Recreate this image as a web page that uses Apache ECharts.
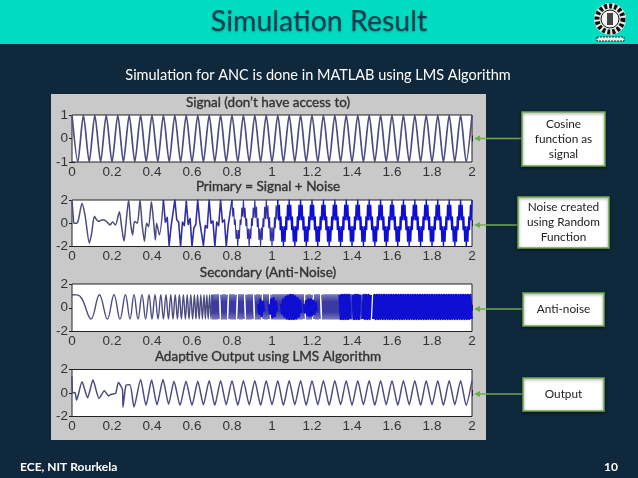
<!DOCTYPE html>
<html>
<head>
<meta charset="utf-8">
<style>html,body{margin:0;padding:0;background:#10283c}#chart{width:638px;height:478px}</style>
<script src="https://cdn.jsdelivr.net/npm/echarts@6/dist/echarts.min.js"></script>
</head>
<body>
<div id="chart"></div>
<script>
const plotTitles = ['Signal (don\u2019t have access to)', 'Primary = Signal + Noise', 'Secondary (Anti-Noise)', 'Adaptive Output using LMS Algorithm']
const yRanges = [[-1, 1, 1], [-2, 2, 2], [-2, 2, 2], [-2, 2, 2]]

// half-period times of the cosine (extremes of the signal)
const cycleT = [0, .029, .057, .086, .114, .143, .171, .2, .229, .257, .286, .314, .343, .371, .4, .429, .457, .486, .514, .543, .571, .6, .629, .657, .686, .714, .743, .771, .8, .829, .857, .886, .914, .943, .971, 1, 1.029, 1.057, 1.086, 1.114, 1.143, 1.171, 1.2, 1.229, 1.257, 1.286, 1.314, 1.343, 1.371, 1.4, 1.429, 1.457, 1.486, 1.514, 1.543, 1.571, 1.6, 1.629, 1.657, 1.686, 1.714, 1.743, 1.771, 1.8, 1.829, 1.857, 1.886, 1.914, 1.943, 1.971, 2]
const signalY = [1, -1, 1, -1, 1, -1, 1, -1, 1, -1, 1, -1, 1, -1, 1, -1, 1, -1, 1, -1, 1, -1, 1, -1, 1, -1, 1, -1, 1, -1, 1, -1, 1, -1, 1, -1, 1, -1, 1, -1, 1, -1, 1, -1, 1, -1, 1, -1, 1, -1, 1, -1, 1, -1, 1, -1, 1, -1, 1, -1, 1, -1, 1, -1, 1, -1, 1, -1, 1, -1, 1]

// primary: slow start, then faster and faster noise on top of the cosine
const primaryHeadT = [0, .007, .01, .023, .032, .05, .065, .087, .098, .112, .123, .135, .143, .157, .173, .19, .203, .217, .237, .248, .26, .27, .283, .293, .303, .313, .327, .34, .35, .362, .373, .383, .397, .407, .417, .423, .437, .457]
const primaryHeadY = [2, .4, 0, 0, .3, 1.7, .7, -1.7, -.9, .6, .3, .15, .25, .3, .15, -.15, .1, -.15, 1, -.3, -1.55, 0, 2, 0, -1, .15, 0, 2, 0, -1.55, 0, -.3, 1.85, .3, -1.45, 0, -1, 2]
const primaryMidY = [2, .1, .5, -1.9, -.3, -.4, 2, .3, .1, -2, .1, -.2, 1.9, -.1, .4, -2, -.4, -.1, 2, .2, .3, -1.9, -.2, -.4, 2, 0, .2, -2, .1, -.2, 2, .1, .3, -2, -.2, -.1, 2]
const primaryFastY = [
  2, .6, 1.3, -.1, .3, -1.3, -.6, -2, -.6, -1.3, .3, -.1, 1.3, .6,
  2, .5, 1.3, -.2, .4, -1.3, -.5, -2, -.5, -1.3, .4, -.2, 1.3, .5,
  2, .5, 1.4, -.3, .4, -1.4, -.5, -2, -.4, -1.4, .4, -.3, 1.4, .4,
  2, .4, 1.5, -.4, .5, -1.5, -.4, -2, -.4, -1.5, .5, -.4, 1.5, .4, 2]
const primaryBandY = [
  2, .3, 1.55, -.55, .55, -1.55, -.3, -2, -.3, -1.55, .55, -.55, 1.55, .3,
  2, .3, 1.55, -.55, .55, -1.55, -.3, -2, -.3, -1.55, .55, -.55, 1.55, .3,
  2, .3, 1.55, -.55, .55, -1.55, -.3, -2, -.3, -1.55, .55, -.55, 1.55, .3,
  2, .3, 1.55, -.55, .55, -1.55, -.3, -2, -.3, -1.55, .55, -.55, 1.55, .3,
  2, .3, 1.55, -.55, .55, -1.55, -.3, -2, -.3, -1.55, .55, -.55, 1.55, .3,
  2, .3, 1.55, -.55, .55, -1.55, -.3, -2, -.3, -1.55, .55, -.55, 1.55, .3,
  2, .3, 1.55, -.55, .55, -1.55, -.3, -2, -.3, -1.55, .55, -.55, 1.55, .3,
  2, .3, 1.55, -.55, .55, -1.55, -.3, -2, -.3, -1.55, .55, -.55, 1.55, .3,
  2, .3, 1.55, -.55, .55, -1.55, -.3, -2, -.3, -1.55, .55, -.55, 1.55, .3,
  2, .3, 1.55, -.55, .55, -1.55, -.3, -2, -.3, -1.55, .55, -.55, 1.55, .3,
  2, .3, 1.55, -.55, .55, -1.55, -.3, -2, -.3, -1.55, .55, -.55, 1.55, .3,
  2, .3, 1.55, -.55, .55, -1.55, -.3, -2, -.3, -1.55, .55, -.55, 1.55, .3,
  2, .3, 1.55, -.55, .55, -1.55, -.3, -2, -.3, -1.55, .55, -.55, 1.55, .3,
  2, .3, 1.55, -.55, .55, -1.55, -.3, -2, -.3, -1.55, .55, -.55, 1.55, .3,
  2, .3, 1.55, -.55, .55, -1.55, -.3, -2, -.3, -1.55, .55, -.55, 1.55, .3,
  2, .3, 1.55, -.55, .55, -1.55, -.3, -2, -.3, -1.55, .55, -.55, 1.55, .3,
  2, .3, 1.55, -.55, .55, -1.55, -.3, -2, -.3, -1.55, .55, -.55, 1.55, .3, 2]

// secondary: chirp extremes, then thin stripes, then the solid blobs and band
const secondaryHeadT = [0, .025, .05, .095, .137, .177, .21, .24, .267, .29, .31, .33, .35, .368, .385, .4, .415, .43, .444, .457, .47, .482, .494, .505, .516, .527, .537, .547, .557, .567, .576, .585, .594, .603, .612, .62, .628, .636, .644, .652, .66, .667, .674, .681, .688, .695, .7]
const secondaryHeadY = [1.1, 1.08, .75, -.95, 1.1, -.95, 1.1, -.95, 1.1, -.95, 1.1, -.95, 1.1, -.95, 1.1, -.95, 1.1, -.95, 1.1, -.95, 1.1, -.95, 1.1, -.95, 1.1, -.95, 1.1, -.95, 1.1, -.95, 1.1, -.95, 1.1, -.95, 1.1, -.95, 1.1, -.95, 1.1, -.95, 1.1, -.95, 1.1, -.95, 1.1, -.95, 1.1]
const secondaryStripeY = [1.1, -.95, 1.1, -.95, 1.1, -.95, 1.1, -.95, null, 1.1, -.95, 1.1, -.95, 1.1, -.95, 1.1, null, -.95, 1.1, -.95, 1.1, -.95, 1.1, -.95, 1.1, null, -.95, 1.1, -.95, 1.1, -.95, 1.1, -.95, null, 1.1, -.95, 1.1, -.95, 1.1, -.95, 1.1, -.95, null, 1.1, -.95, 1.1, -.95, 1.1, -.95, 1.1, null, -.95, 1.1, -.95, 1.1, -.95, 1.1, -.95, null, 1.1, -.95, 1.1, -.95, 1.1, -.95, 1.1, -.95, 1.1, -.95, 1.1, -.95, 1.1, -.95, 1.1, -.95, 1.1, -.95, 1.1, -.95, 1.1, -.95, 1.1, -.95, 1.1, -.95, 1.1, -.95, 1.1, -.95, 1.1, -.95, 1.1, -.95, null, 1.1, -.95, 1.1, -.95, 1.1, -.95, 1.1, null, -.95, 1.1, -.95, 1.1, -.95, 1.1, -.95, null, 1.1, -.95, 1.1, -.95, 1.1, -.95, 1.1, -.95, 1.1, -.95, 1.1, -.95, 1.1, -.95, 1.1, -.95, 1.1, -.95, 1.1, -.95, 1.1, -.95, 1.1, -.95, 1.1, -.95, 1.1, -.95, 1.1, -.95, 1.1, -.95, 1.1, -.95, 1.1, -.95, 1.1, -.95, 1.1, -.95, 1.1]
const secondaryBlobY = [null, null, null, null, null, .3, -.5, .7, -.7, .5, -.3, null, null, null, .3, -.5, .7, -.8, .8, -.7, .5, -.3, null, null, .35, -.5, .7, -.75, .9, -.9, 1, -.95, 1.08, -.95, 1.05, -.95, .95, -.9, .8, -.75, .6, -.45, null, .3, -.4, .55, -.6, .7, -.7, .7, -.65, .6, -.5, .4, -.3,
  null, null, null, null, null, null, null, null, null, null, null, null, null, null, null, null, null, null,
  1.08, -.95, 1.08, -.95, 1.08, -.95, 1.08, -.95, 1.08, -.95, null, 1.08, -.95, 1.08, -.95, 1.08, -.95, 1.08, null, -.95, 1.08, -.95, 1.08, -.95, 1.08, -.95, 1.08, null,
  -.95, 1.08, -.95, 1.08, -.95, 1.08, -.95, 1.08, -.95, 1.08, -.95, 1.08, -.95, 1.08, -.95, 1.08, -.95, 1.08, -.95, 1.08,
  -.95, 1.08, -.95, 1.08, -.95, 1.08, -.95, 1.08, -.95, 1.08, -.95, 1.08, -.95, 1.08, -.95, 1.08, -.95, 1.08, -.95, 1.08,
  -.95, 1.08, -.95, 1.08, -.95, 1.08, -.95, 1.08, -.95, 1.08, -.95, 1.08, -.95, 1.08, -.95, 1.08, -.95, 1.08, -.95, 1.08,
  -.95, 1.08, -.95, 1.08, -.95, 1.08, -.95, 1.08, -.95, 1.08, -.95, 1.08, -.95, 1.08, -.95, 1.08, -.95, 1.08, -.95, 1.08,
  -.95, 1.08, -.95]

// adaptive output: messy start, then it follows the cosine
const outputHeadT = [0, .003, .015, .023, .05, .078, .105, .135, .162, .183, .198, .218, .232, .252, .255, .27, .29, .31, .343, .37, .398, .425, .455, .483, .51, .54, .57, .6]
const outputHeadY = [1.4, 0, .05, -.6, .95, -.4, 1.1, -.45, .2, -.25, -.1, -.03, .9, .3, -1.2, .65, .7, -1.2, 1.15, -1.05, 1.1, -1, 1.15, -.95, 1, -1.05, 1, -1.05]
const outputTailY = [1, -1, 1.05, -1.05, 1.05, -1, 1.05, -1.05, 1.05, -1, 1.05, -1.05, 1.05, -1, 1.05, -1.05, 1.05, -1, 1.05, -1.05, 1.05, -1, 1.05, -1.05, 1.05, -1, 1.05, -1.05, 1.05, -1, 1.05, -1.05, 1.05, -1, 1.05, -1.05, 1.05, -1, 1.05, -1.05, 1.05, -1, 1.05, -1.05, 1.05, -1, 1.05, -1.05, 1.05]

const callouts = [
  { lines: 'Cosine\nfunction as\nsignal', box: [522, 112, 83, 54], arrowY: 138.5 },
  { lines: 'Noise created\nusing Random\nFunction', box: [518, 197, 91, 51], arrowY: 225 },
  { lines: 'Anti-noise', box: [523, 293, 81, 33], arrowY: 309 },
  { lines: 'Output', box: [523, 378, 81, 33], arrowY: 394 }
]

const GRIDS = [[115, 47], [200, 46.5], [284, 47.5], [369.5, 47]]
const TITLE_Y = [103, 187, 273, 357]
const SOFT = '#4c4c80'
const MID = '#3030a4'
const DEEP = '#0f0fd2'
const TEXT = '#333'
const FONT = 'Lato, "Open Sans", sans-serif'
const TICK_FONT = '"Liberation Sans", Arial, sans-serif'

function pairs(ts, ys) { return ys.map((y, i) => [ts[i], y]) }
// evenly sampled stretch, like a MATLAB time vector
function sampled(start, step, ys) { return ys.map((y, i) => [start + i * step, y]) }

function line(plot, data, color, width, extra) {
  return {
    type: 'line', xAxisIndex: plot * 2, yAxisIndex: plot * 2, data, symbol: 'none',
    connectNulls: false, animation: false, silent: true,
    lineStyle: { color, width, join: 'round' }, ...extra
  }
}

const series = [
  line(0, pairs(cycleT, signalY), SOFT, 1.7, { smooth: 0.25 }),
  line(1, pairs(primaryHeadT, primaryHeadY), SOFT, 1.5, { smooth: 0.25 }),
  line(1, sampled(.4571, .009524, primaryMidY), MID, 1.6),
  line(1, sampled(.8, .004082, primaryFastY), MID, 1.1),
  line(1, sampled(1.0286, .004082, primaryBandY), DEEP, 1.3),
  line(2, pairs(secondaryHeadT, secondaryHeadY), SOFT, 1.4, { smooth: 0.4 }),
  line(2, sampled(.7, .005, secondaryStripeY), '#3a3aa0', 1.4),
  line(2, sampled(.9, .006, secondaryBlobY), DEEP, 2.4),
  line(3, pairs(outputHeadT.concat(cycleT.slice(22)), outputHeadY.concat(outputTailY)), SOFT, 1.5, { smooth: 0.2 })
]

const grid = GRIDS.map(([top, height]) => ({
  left: 72, width: 400, top, height, show: true, z: 1,
  backgroundColor: '#fff', borderColor: '#222', borderWidth: 1
}))

const xAxis = []
const yAxis = []
GRIDS.forEach((g, i) => {
  const [min, max, interval] = yRanges[i]
  const ticks = { show: true, inside: true, length: 3, lineStyle: { color: '#222' } }
  xAxis.push({
    gridIndex: i, type: 'value', min: 0, max: 2, interval: .2, position: 'bottom',
    axisLine: { show: false }, axisTick: ticks, splitLine: { show: false },
    axisLabel: { color: TEXT, fontFamily: TICK_FONT, fontSize: 13.5, margin: 3 }
  }, {
    gridIndex: i, type: 'value', min: 0, max: 2, interval: .2, position: 'top',
    axisLine: { show: false }, axisTick: ticks, splitLine: { show: false }, axisLabel: { show: false }
  })
  yAxis.push({
    gridIndex: i, type: 'value', min, max, interval, position: 'left',
    axisLine: { show: false }, axisTick: ticks, splitLine: { show: false },
    axisLabel: { color: TEXT, fontFamily: TICK_FONT, fontSize: 13.5, margin: 4 }
  }, {
    gridIndex: i, type: 'value', min, max, interval, position: 'right',
    axisLine: { show: false }, axisTick: ticks, splitLine: { show: false }, axisLabel: { show: false }
  })
})

const title = plotTitles.map((text, i) => ({
  text, left: 268, top: TITLE_Y[i], textAlign: 'center', textVerticalAlign: 'middle', padding: 0,
  textStyle: { color: TEXT, fontFamily: FONT, fontSize: 13.5, fontWeight: 400, textBorderColor: '#444', textBorderWidth: 0.4 }
}))
title.push({
  text: 'Simulation Result', left: 319, top: 22, textAlign: 'center', textVerticalAlign: 'middle', padding: 0,
  textStyle: { color: '#0c3a50', fontFamily: FONT, fontSize: 28.5, fontWeight: 400, textShadowColor: 'rgba(0,0,0,.35)', textShadowBlur: 2, textShadowOffsetY: 1 }
}, {
  text: 'Simulation for ANC is done in MATLAB using LMS Algorithm', left: 318, top: 75, textAlign: 'center', textVerticalAlign: 'middle', padding: 0,
  textStyle: { color: '#fff', fontFamily: FONT, fontSize: 14.5, fontWeight: 400 }
}, {
  text: 'ECE, NIT Rourkela', left: 20, top: 467, textVerticalAlign: 'middle', padding: 0,
  textStyle: { color: '#fff', fontFamily: FONT, fontSize: 12, fontWeight: 700 }
}, {
  text: '10', left: 604, top: 467, textVerticalAlign: 'middle', padding: 0,
  textStyle: { color: '#fff', fontFamily: FONT, fontSize: 12, fontWeight: 700 }
})

// slide furniture: header, grey figure panel, emblem, callouts and arrows
const graphic = [
  { type: 'rect', z: -10, shape: { x: 0, y: 0, width: 638, height: 44 }, style: { fill: '#00dcc2' } },
  { type: 'rect', z: -10, shape: { x: 51, y: 94, width: 435, height: 346 }, style: { fill: '#c9c9c9' } },
  { type: 'circle', z: -9, shape: { cx: 610, cy: 19, r: 16 }, style: { fill: '#e8efe9' } },
  { type: 'circle', z: -8, shape: { cx: 610, cy: 19, r: 13 }, style: { fill: 'none', stroke: '#111', lineWidth: 5, lineDash: [3, 2] } },
  { type: 'circle', z: -8, shape: { cx: 610, cy: 19, r: 9 }, style: { fill: '#f4f4f4', stroke: '#111', lineWidth: 1 } },
  { type: 'rect', z: -8, shape: { x: 607, y: 13, width: 6, height: 12 }, style: { fill: '#444' } },
  { type: 'rect', z: -8, shape: { x: 597, y: 37, width: 27, height: 4 }, style: { fill: '#e8efe9', stroke: '#222', lineWidth: 1, lineDash: [2, 1] } }
]
callouts.forEach(c => {
  const [x, y, w, h] = c.box
  graphic.push(
    { type: 'line', z: 5, shape: { x1: 476, y1: c.arrowY, x2: x, y2: c.arrowY }, style: { stroke: '#6fa94f', lineWidth: 1.5 } },
    { type: 'polygon', z: 5, shape: { points: [[474, c.arrowY], [480, c.arrowY - 3], [480, c.arrowY + 3]] }, style: { fill: '#6fa94f' } },
    {
      type: 'rect', z: 6, shape: { x, y, width: w, height: h },
      style: { fill: '#fff', stroke: '#6fa94f', lineWidth: 1.5, shadowColor: 'rgba(0,0,0,.5)', shadowBlur: 3, shadowOffsetY: 1 }
    },
    {
      type: 'text', z: 7, x: x + w / 2, y: y + h / 2,
      style: { text: c.lines, fill: '#222', font: '11.8px ' + FONT, align: 'center', verticalAlign: 'middle', lineHeight: 15 }
    }
  )
})

const chart = echarts.init(document.getElementById('chart'), null, { renderer: 'canvas' })
chart.setOption({ animation: false, backgroundColor: '#10283c', title, grid, xAxis, yAxis, series, graphic })
</script>
</body>
</html>
